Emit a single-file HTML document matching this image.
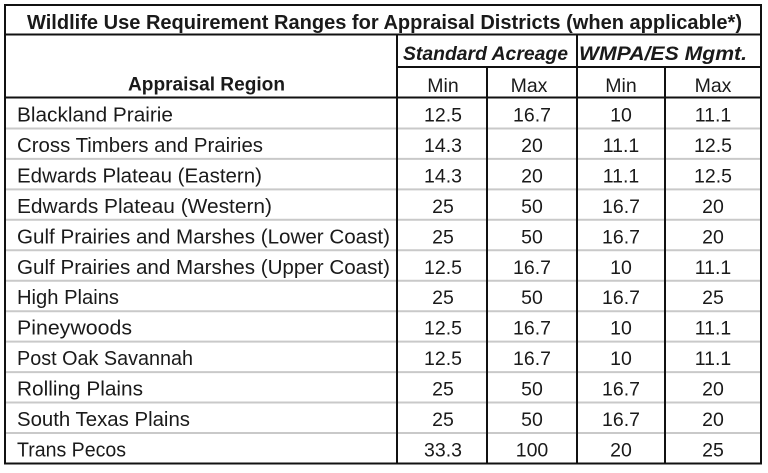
<!DOCTYPE html>
<html><head><meta charset="utf-8"><style>
html,body{margin:0;padding:0;background:#fff;}
svg{display:block;}
text{font-family:"Liberation Sans",sans-serif;fill:#1a1a1a;}
</style></head><body>
<svg width="768" height="473" viewBox="0 0 768 473" xmlns="http://www.w3.org/2000/svg">
<rect x="0" y="0" width="768" height="473" fill="#fff"/>
<g stroke="#c9c9c9" stroke-width="2">
<line x1="5" x2="761" y1="128.5" y2="128.5"/>
<line x1="5" x2="761" y1="158.9" y2="158.9"/>
<line x1="5" x2="761" y1="189.4" y2="189.4"/>
<line x1="5" x2="761" y1="219.8" y2="219.8"/>
<line x1="5" x2="761" y1="250.3" y2="250.3"/>
<line x1="5" x2="761" y1="280.7" y2="280.7"/>
<line x1="5" x2="761" y1="311.2" y2="311.2"/>
<line x1="5" x2="761" y1="341.6" y2="341.6"/>
<line x1="5" x2="761" y1="372.1" y2="372.1"/>
<line x1="5" x2="761" y1="402.5" y2="402.5"/>
<line x1="5" x2="761" y1="433.0" y2="433.0"/>
</g>
<g stroke="#111" stroke-width="2" fill="none">
<rect x="5" y="5" width="756" height="458.5"/>
<line x1="5" x2="761" y1="34.5" y2="34.5"/>
<line x1="397" x2="761" y1="67" y2="67"/>
<line x1="5" x2="761" y1="97.5" y2="97.5"/>
<line x1="397" x2="397" y1="34.5" y2="463.5"/>
<line x1="577" x2="577" y1="34.5" y2="463.5"/>
<line x1="487" x2="487" y1="67" y2="463.5"/>
<line x1="665" x2="665" y1="67" y2="463.5"/>
</g>
<text x="27" y="29" font-size="20" font-weight="bold" textLength="715" lengthAdjust="spacingAndGlyphs">Wildlife Use Requirement Ranges for Appraisal Districts (when applicable*)</text>
<text x="128" y="90.5" font-size="19.5" font-weight="bold" textLength="157" lengthAdjust="spacingAndGlyphs">Appraisal Region</text>
<text x="403" y="60" font-size="19.5" font-weight="bold" font-style="italic" textLength="165" lengthAdjust="spacingAndGlyphs">Standard Acreage</text>
<text x="579" y="60" font-size="19.5" font-weight="bold" font-style="italic" textLength="168" lengthAdjust="spacingAndGlyphs">WMPA/ES Mgmt.</text>
<g font-size="19.5" text-anchor="middle">
<text x="443" y="92">Min</text>
<text x="529" y="92">Max</text>
<text x="621" y="92">Min</text>
<text x="713" y="92">Max</text>
</g>
<g font-size="20">
<text x="17" y="121.5" textLength="156" lengthAdjust="spacingAndGlyphs">Blackland Prairie</text>
<text x="17" y="152" textLength="246" lengthAdjust="spacingAndGlyphs">Cross Timbers and Prairies</text>
<text x="17" y="182.4" textLength="245" lengthAdjust="spacingAndGlyphs">Edwards Plateau (Eastern)</text>
<text x="17" y="212.9" textLength="255" lengthAdjust="spacingAndGlyphs">Edwards Plateau (Western)</text>
<text x="17" y="243.3" textLength="373" lengthAdjust="spacingAndGlyphs">Gulf Prairies and Marshes (Lower Coast)</text>
<text x="17" y="273.8" textLength="373" lengthAdjust="spacingAndGlyphs">Gulf Prairies and Marshes (Upper Coast)</text>
<text x="17" y="304.2" textLength="102" lengthAdjust="spacingAndGlyphs">High Plains</text>
<text x="17" y="334.7" textLength="115" lengthAdjust="spacingAndGlyphs">Pineywoods</text>
<text x="17" y="365.1" textLength="176" lengthAdjust="spacingAndGlyphs">Post Oak Savannah</text>
<text x="17" y="395.6" textLength="126" lengthAdjust="spacingAndGlyphs">Rolling Plains</text>
<text x="17" y="426" textLength="173" lengthAdjust="spacingAndGlyphs">South Texas Plains</text>
<text x="17" y="456.5" textLength="109" lengthAdjust="spacingAndGlyphs">Trans Pecos</text>
</g>
<g font-size="19.5" text-anchor="middle">
<text x="443" y="121.5">12.5</text><text x="532" y="121.5">16.7</text><text x="621" y="121.5">10</text><text x="713" y="121.5">11.1</text>
<text x="443" y="152">14.3</text><text x="532" y="152">20</text><text x="621" y="152">11.1</text><text x="713" y="152">12.5</text>
<text x="443" y="182.4">14.3</text><text x="532" y="182.4">20</text><text x="621" y="182.4">11.1</text><text x="713" y="182.4">12.5</text>
<text x="443" y="212.9">25</text><text x="532" y="212.9">50</text><text x="621" y="212.9">16.7</text><text x="713" y="212.9">20</text>
<text x="443" y="243.3">25</text><text x="532" y="243.3">50</text><text x="621" y="243.3">16.7</text><text x="713" y="243.3">20</text>
<text x="443" y="273.8">12.5</text><text x="532" y="273.8">16.7</text><text x="621" y="273.8">10</text><text x="713" y="273.8">11.1</text>
<text x="443" y="304.2">25</text><text x="532" y="304.2">50</text><text x="621" y="304.2">16.7</text><text x="713" y="304.2">25</text>
<text x="443" y="334.7">12.5</text><text x="532" y="334.7">16.7</text><text x="621" y="334.7">10</text><text x="713" y="334.7">11.1</text>
<text x="443" y="365.1">12.5</text><text x="532" y="365.1">16.7</text><text x="621" y="365.1">10</text><text x="713" y="365.1">11.1</text>
<text x="443" y="395.6">25</text><text x="532" y="395.6">50</text><text x="621" y="395.6">16.7</text><text x="713" y="395.6">20</text>
<text x="443" y="426">25</text><text x="532" y="426">50</text><text x="621" y="426">16.7</text><text x="713" y="426">20</text>
<text x="443" y="456.5">33.3</text><text x="532" y="456.5">100</text><text x="621" y="456.5">20</text><text x="713" y="456.5">25</text>
</g>
</svg>
</body></html>
